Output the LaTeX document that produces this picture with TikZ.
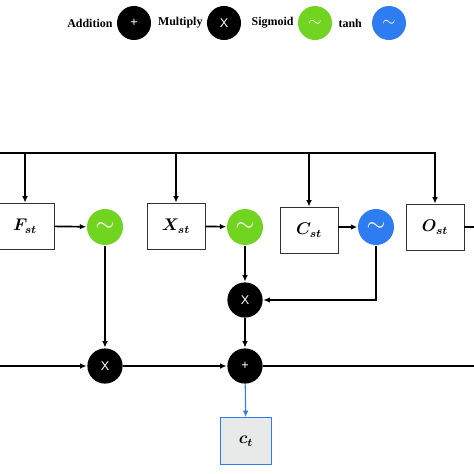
\documentclass[tikz,border=0pt]{standalone}
\usepackage{fontspec}
\usepackage{amsmath}
\setmainfont{Liberation Serif}
\setsansfont{Liberation Sans}
\usetikzlibrary{arrows.meta,positioning}
\definecolor{sigmagreen}{RGB}{112,212,32}
\definecolor{tanhblue}{RGB}{46,124,240}
\definecolor{cellgray}{RGB}{232,234,234}
\tikzset{
  gatebox/.style={draw=black!80,semithick,fill=white,minimum width=1.45cm,minimum height=1.15cm,font=\fontsize{12}{14}\selectfont\boldmath},
  opnode/.style={circle,fill=black,minimum size=0.88cm,inner sep=0pt,text=white,font=\sffamily\fontsize{9}{10}\selectfont},
  sgnode/.style={circle,fill=sigmagreen,minimum size=0.9cm,inner sep=0pt,text=white,font=\fontsize{18}{18}\selectfont},
  thnode/.style={circle,fill=tanhblue,minimum size=0.9cm,inner sep=0pt,text=white,font=\fontsize{18}{18}\selectfont},
  legtext/.style={font=\fontsize{8.5}{10}\selectfont\bfseries,inner sep=1pt}
}
\begin{document}
\begin{tikzpicture}[x=0.025cm,y=-0.025cm,>={Latex[length=4.5pt,width=4pt]},very thick]
\useasboundingbox (0,0) rectangle (474,474);

% legend
\node[opnode,minimum size=0.85cm] (la) at (134,23) {+};
\node[legtext,left=1pt of la] (lat) {Addition};
\node[opnode,minimum size=0.85cm] (lm) at (224,23) {X};
\node[legtext,left=1pt of lm] (lmt) {Multiply};
\node[sgnode,minimum size=0.85cm,font=\fontsize{13}{13}\selectfont] (ls) at (315,23) {$\sim$};
\node[legtext,left=1pt of ls] (lst) {Sigmoid};
\node[thnode,minimum size=0.85cm,font=\fontsize{13}{13}\selectfont] (lt) at (389,23) {$\sim$};
\node[legtext,left=5pt of lt] (ltt) {tanh};

% gates
\node[gatebox] (F) at (25,226) {$F_{st}$};
\node[gatebox] (X) at (176,226) {$X_{st}$};
\node[gatebox] (C) at (309,230) {$C_{st}$};
\node[gatebox] (O) at (435,227) {$O_{st}$};

\node[sgnode] (sg1) at (105,227) {$\sim$};
\node[sgnode] (sg2) at (245,227) {$\sim$};
\node[thnode] (th) at (376,227) {$\sim$};

\node[opnode] (m1) at (245,300) {X};
\node[opnode] (m2) at (105,366) {X};
\node[opnode] (ad) at (245,366) {+};

\node[gatebox,draw=tanhblue,fill=cellgray,minimum width=1.28cm,minimum height=1.18cm] (ct) at (246,441) {$c_t$};

\coordinate (busL) at (0,153);
\coordinate (busR) at (435,153);
\coordinate (cellL) at (0,366);
\coordinate (cellR) at (474,366);
\coordinate (outR) at (474,227);

% top bus
\draw[->] (busL) -- (busR) -- (O);
\draw[->] (F |- busL) -- (F);
\draw[->] (X |- busL) -- (X);
\draw[->] (C |- busL) -- (C);

% gate outputs
\draw[->] (F) -- (sg1);
\draw[->] (X) -- (sg2);
\draw[->] (C.east |- th) -- (th);
\draw (O) -- (outR);

\draw[->] (sg1) -- (m2);
\draw[->] (sg2) -- (m1);
\draw[->] (th) |- (m1);
\draw[->] (m1) -- (ad);

% cell line
\draw[->] (cellL) -- (m2);
\draw[->] (m2) -- (ad);
\draw (ad) -- (cellR);
\draw[->,tanhblue,thick] (ad) -- (ct);
\end{tikzpicture}
\end{document}
